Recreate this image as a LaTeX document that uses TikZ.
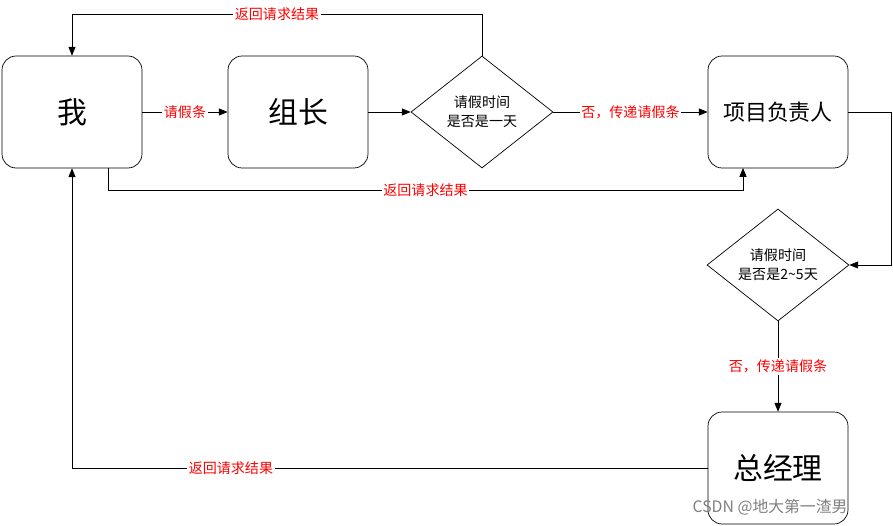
\documentclass[tikz,border=0pt]{standalone}
\usepackage{fontspec}
\setmainfont{Noto Sans CJK SC}
\usetikzlibrary{shapes.geometric,arrows.meta}

\tikzset{
    box/.style={draw, rounded corners=8pt, minimum width=2.8cm, minimum height=2.24cm, font=\fontsize{17}{20}\selectfont},
    decide/.style={draw, diamond, aspect=1.27, minimum width=2.84cm, minimum height=2.24cm, inner sep=0pt, align=center, font=\fontsize{8}{11}\selectfont},
    flow/.style={-{Triangle[length=5pt,width=4pt]}},
    lbl/.style={fill=white, text=red, inner sep=1pt, font=\fontsize{8}{10}\selectfont}
}

\begin{document}
\begin{tikzpicture}[x=0.02cm, y=-0.02cm]
    \useasboundingbox (0,0) rectangle (893,526);

    \node[box] (me) at (72,112) {我};
    \node[box] (lead) at (298,112) {组长};
    \node[decide] (d1) at (482,112) {请假时间\\是否是一天};
    \node[box, font=\fontsize{12.5}{15}\selectfont] (pm) at (778,112) {项目负责人};
    \node[decide] (d2) at (778,265) {请假时间\\是否是2\textasciitilde5天};
    \node[box] (gm) at (778,468) {总经理};

    \draw[flow] (me) -- node[lbl] {请假条} (lead);
    \draw[flow] (lead) -- (d1);
    \draw[flow] (d1) -- node[lbl] {否，传递请假条} (pm);
    \draw[flow] (d1.north) -- (482,14) -- node[lbl] {返回请求结果} (72,14) -- (me.north);
    \draw[flow] (108,168) -- (108,190) -- node[lbl, pos=0.5] {返回请求结果} (743,190) -- (743,168);
    \draw[flow] (pm.east) -- (891,112) -- (891,265) -- (d2.east);
    \draw[flow] (d2.south) -- node[lbl] {否，传递请假条} (gm.north);
    \draw[flow] (gm.west) -- node[lbl, pos=0.75] {返回请求结果} (72,468) -- (me.south);

    \node[text=gray, font=\fontsize{9}{11}\selectfont] (mark) at (770,507) {CSDN @地大第一渣男};
\end{tikzpicture}
\end{document}
